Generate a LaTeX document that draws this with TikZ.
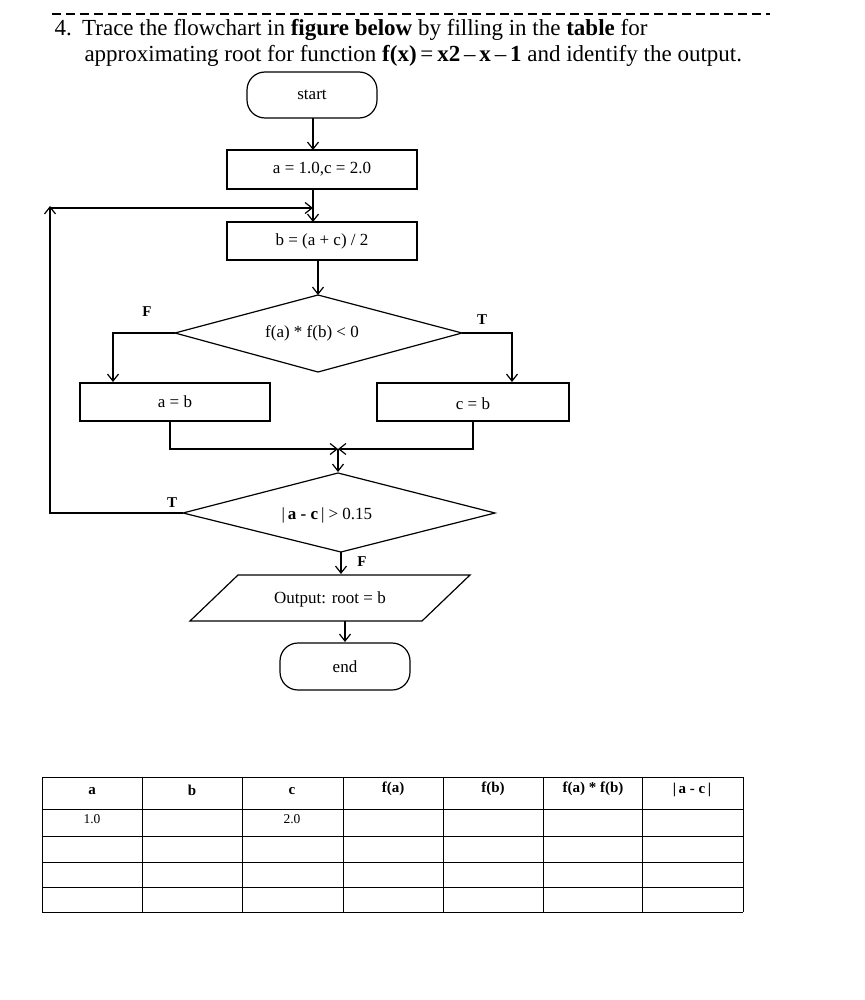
\documentclass[tikz,border=0pt]{standalone}
\usepackage{fontspec}
\setmainfont{Liberation Serif}
\usetikzlibrary{arrows.meta,shapes.geometric}
\begin{document}
\begin{tikzpicture}[x=1pt,y=-1pt,
  ln/.style={line width=1.2pt},
  ar/.style={ln,-{Straight Barb[length=7pt,width=11pt]}},
  lbl/.style={font=\fontsize{17}{19}\selectfont},
  tf/.style={font=\bfseries\fontsize{15}{17}\selectfont},
  hd/.style={font=\bfseries\fontsize{15}{17}\selectfont},
  cel/.style={font=\fontsize{13.5}{15}\selectfont}]
\useasboundingbox (0,0) rectangle (864,1000);
\draw[line width=1.5pt,dash pattern=on 9pt off 5pt] (52,14) -- (770,14);
\node[anchor=west,font=\fontsize{23}{26}\selectfont] (t1) at (51,30) {4.\hspace{0.45em}Trace the flowchart in \textbf{figure below} by filling in the \textbf{table} for};
\node[anchor=west,font=\fontsize{23}{26}\selectfont] (t2) at (81,56) {approximating root for function \textbf{f(x)}\,=\,\textbf{x2}\,–\,\textbf{x}\,–\,\textbf{1} and identify the output.};
% nodes
\draw[ln,rounded corners=18pt] (247,72) rectangle (377,118);
\node[lbl] (start) at (312,95) {start};
\draw[ln] (227,150) rectangle (417,189);
\node[lbl] (init) at (322,169) {a = 1.0,c = 2.0};
\draw[ln] (227,222) rectangle (417,260);
\node[lbl] (bb) at (322,241) {b = (a + c) / 2};
\draw[ln] (318,295) -- (462,333) -- (318,372) -- (175,333) -- cycle;
\node[lbl] (d1) at (312,333) {f(a) * f(b) < 0};
\draw[ln] (80,383) rectangle (270,421);
\node[lbl] (ab) at (175,402) {a = b};
\draw[ln] (377,383) rectangle (569,421);
\node[lbl] (cb) at (473,404) {c = b};
\draw[ln] (338,473) -- (495,513) -- (341,552) -- (183,513) -- cycle;
\node[lbl] (d2) at (327,515) {|\,\textbf{a - c}\,| > 0.15};
\draw[ln] (238,575) -- (470,575) -- (422,621) -- (190,621) -- cycle;
\node[lbl] (out) at (330,599) {Output: root = b};
\draw[ln,rounded corners=18pt] (280,643) rectangle (410,690);
\node[lbl] (end) at (345,667) {end};
% labels
\node[tf] (F1) at (147,312) {F};
\node[tf] (T1) at (482,320) {T};
\node[tf] (T2) at (172,503) {T};
\node[tf] (F2) at (362,562) {F};
% connectors
\coordinate (j1) at (313,208);
\draw[ar] (313,118) -- (313,150);
\draw[ar] (313,189) -- (313,222);
\draw[ar] (318,260) -- (318,295);
\draw[ar] (175,333) -- (113,333) -- (113,382);
\draw[ar] (462,333) -- (512,333) -- (512,382);
\draw[ar] (170,421) -- (170,449) -- (338,449);
\draw[ar] (473,421) -- (473,449) -- (338,449);
\draw[ar] (338,449) -- (338,472);
\draw[ar] (183,513) -- (50,513) -- (50,206);
\draw[ar] (50,208) -- (j1);
\draw[ar] (341,552) -- (341,574);
\draw[ar] (345,621) -- (345,642);
% table
\foreach \x in {42,142,242,343,443,543,642,743} \draw[line width=0.8pt] (\x,777) -- (\x,912);
\foreach \y in {777,809,836,862,887,912} \draw[line width=0.8pt] (42,\y) -- (743,\y);
\node[hd] (h1) at (92,791) {a};
\node[hd] (h2) at (192,790) {b};
\node[hd] (h3) at (292,791) {c};
\node[hd] (h4) at (393,789) {f(a)};
\node[hd] (h5) at (493,789) {f(b)};
\node[hd] (h6) at (593,789) {f(a) * f(b)};
\node[hd] (h7) at (692,790) {|\,a - c\,|};
\node[cel] (v1) at (92,819) {1.0};
\node[cel] (v3) at (292,819) {2.0};
\end{tikzpicture}
\end{document}
